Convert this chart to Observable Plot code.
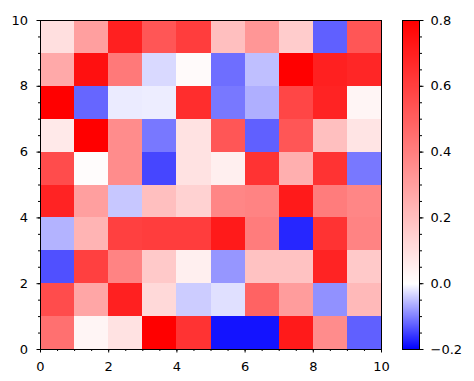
<!DOCTYPE html>
<html>
<head>
<meta charset="utf-8">
<script src="https://cdn.jsdelivr.net/npm/d3@7"></script>
<script src="https://cdn.jsdelivr.net/npm/@observablehq/plot@0.6"></script>
<style>
  html, body { margin: 0; padding: 0; background: #fff; }
  #chart { position: relative; width: 474px; height: 381px; overflow: hidden; }
  #main { position: absolute; left: 0; top: 0; }
  #bar { position: absolute; left: 390px; top: 0; }
</style>
</head>
<body>
<div id="chart"><div id="main"></div><div id="bar"></div></div>
<script>
// Grid values, one array per row (row 9 at the top, row 0 at the bottom)
const row9 = [0.10, 0.30, 0.70, 0.53, 0.61, 0.20, 0.33, 0.16, -0.125, 0.53];
const row8 = [0.27, 0.75, 0.42, -0.03, 0.015, -0.114, -0.05, 0.80, 0.70, 0.68];
const row7 = [0.80, -0.12, -0.016, -0.014, 0.66, -0.106, -0.063, 0.58, 0.69, 0.03];
const row6 = [0.07, 0.80, 0.36, -0.106, 0.09, 0.53, -0.125, 0.53, 0.20, 0.085];
const row5 = [0.56, 0.01, 0.36, -0.145, 0.09, 0.05, 0.64, 0.25, 0.64, -0.106];
const row4 = [0.69, 0.30, -0.044, 0.20, 0.14, 0.38, 0.39, 0.72, 0.41, 0.38];
const row3 = [-0.06, 0.235, 0.60, 0.61, 0.61, 0.72, 0.41, -0.17, 0.64, 0.39];
const row2 = [-0.137, 0.60, 0.39, 0.17, 0.05, -0.082, 0.19, 0.19, 0.69, 0.17];
const row1 = [0.56, 0.28, 0.70, 0.12, -0.04, -0.024, 0.49, 0.31, -0.086, 0.22];
const row0 = [0.45, 0.03, 0.09, 0.80, 0.64, -0.185, -0.185, 0.72, 0.36, -0.125];

// Axis ticks
const gridTicks = [0, 2, 4, 6, 8, 10];
const gridMinorTicks = d3.range(0, 10.001, 0.5);
const colorTicks = [-0.2, 0.0, 0.2, 0.4, 0.6, 0.8];
const colorMinorTicks = d3.range(-0.2, 0.8001, 0.05);

const rows = [row0, row1, row2, row3, row4, row5, row6, row7, row8, row9];
const cells = rows.flatMap((r, j) => r.map((v, i) => ({col: i, row: j, value: v})));

// blue-white-red with white pinned at zero
const color = {
  type: "linear",
  domain: [-0.2, 0, 0.8],
  range: ["#0000ff", "#ffffff", "#ff0000"],
  interpolate: "rgb",
  clamp: true
};
const style = {fontFamily: "DejaVu Sans, sans-serif", fontSize: "13px", color: "#000", background: "transparent", overflow: "visible"};
const fmt = d => (d < 0 ? "\u2212" : "") + Math.abs(d).toFixed(1);

const main = Plot.plot({
  width: 395, height: 381,
  marginLeft: 40, marginRight: 14, marginTop: 20, marginBottom: 32,
  x: {domain: [0, 10]},
  y: {domain: [0, 10]},
  color,
  style,
  marks: [
    Plot.rect(cells, {x1: "col", x2: d => d.col + 1, y1: "row", y2: d => d.row + 1, fill: "value", shapeRendering: "crispEdges"}),
    Plot.axisX(gridMinorTicks, {tickSize: 2, tickFormat: () => "", label: null}),
    Plot.axisY(gridMinorTicks, {tickSize: 2, tickFormat: () => "", label: null}),
    Plot.axisX(gridTicks, {tickSize: 3.5, tickPadding: 8.5, label: null, fontSize: 13}),
    Plot.axisY(gridTicks, {tickSize: 3.5, tickPadding: 9, label: null, fontSize: 13}),
    Plot.frame({stroke: "#000", strokeWidth: 1})
  ]
});
document.getElementById("main").appendChild(main);

const bar = Plot.plot({
  width: 84, height: 381,
  marginLeft: 12, marginRight: 55, marginTop: 20, marginBottom: 32,
  x: {domain: [0, 1], axis: null},
  y: {domain: [-0.2, 0.8]},
  color,
  style,
  marks: [
    Plot.raster({x1: 0, x2: 1, y1: -0.2, y2: 0.8, width: 1, height: 329, fill: (x, y) => y, imageRendering: "auto"}),
    Plot.axisY(colorMinorTicks, {anchor: "right", tickSize: 2, tickFormat: () => "", label: null}),
    Plot.axisY(colorTicks, {anchor: "right", tickSize: 3.5, tickPadding: 7.5, tickFormat: fmt, label: null, fontSize: 13}),
    Plot.frame({stroke: "#000", strokeWidth: 1})
  ]
});
document.getElementById("bar").appendChild(bar);
</script>
</body>
</html>
